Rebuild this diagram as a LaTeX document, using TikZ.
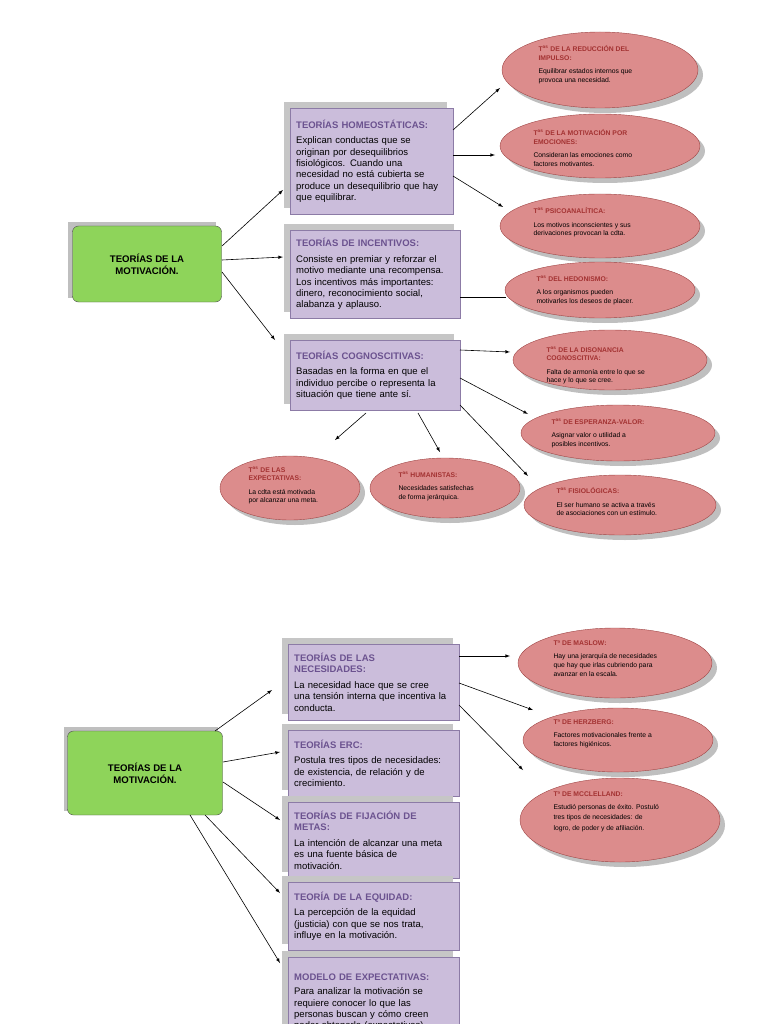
\documentclass[tikz,border=0pt]{standalone}
\usepackage{fontspec}
\setmainfont{Liberation Sans}
\usetikzlibrary{shapes.geometric}
\definecolor{boxfill}{HTML}{CBBDDB}
\definecolor{boxdraw}{HTML}{8C7BA6}
\definecolor{titlep}{HTML}{6B528F}
\definecolor{ellfill}{HTML}{DC8C8C}
\definecolor{elldraw}{HTML}{9E4545}
\definecolor{titler}{HTML}{A33232}
\definecolor{greenf}{HTML}{8ED45A}
\newcommand{\mypt}{\color{titlep}\bfseries}
\newcommand{\myrt}{\color{titler}\bfseries}
\newcommand{\mybd}{\color{black}\mdseries}
\newcommand{\mysq}{\textsuperscript{as}}
\begin{document}
\begin{tikzpicture}[x=1pt,y=-1pt,
  pbox/.style={draw=boxdraw,fill=boxfill,anchor=north west,align=left,inner sep=6pt,font=\fontsize{9.5}{11.4}\selectfont},
  gbox/.style={draw=black!70,fill=greenf,rounded corners=6pt,align=center,font=\bfseries\fontsize{9.6}{12}\selectfont},
  ell/.style={ellipse,draw=elldraw,fill=ellfill},
  etxt/.style={align=left,anchor=north west,font=\fontsize{6.8}{8.6}\selectfont},
  arr/.style={-latex,black,line width=0.6pt}]
\useasboundingbox (0,0) rectangle (768,1024);
% ---------- TOP ----------
\fill[gray!50] (68,222) rectangle (216,298);
\node[gbox,minimum width=149pt,minimum height=76pt] (g1) at (147,264) {TEORÍAS DE LA\\MOTIVACIÓN.};
\fill[gray!45] (284,102) rectangle (447,208);
\node[pbox,text width=151pt,minimum height=106pt] (h) at (290,108) {\mypt TEORÍAS HOMEOSTÁTICAS:\\[4pt]\mybd Explican conductas que se\\originan por desequilibrios\\fisiológicos. Cuando una\\necesidad no está cubierta se\\produce un desequilibrio que hay\\que equilibrar.};
\fill[gray!45] (284,224) rectangle (454,312);
\node[pbox,text width=158pt,minimum height=88pt] (i) at (290,230) {\mypt TEORÍAS DE INCENTIVOS:\\[4pt]\mybd Consiste en premiar y reforzar el\\motivo mediante una recompensa.\\Los incentivos más importantes:\\dinero, reconocimiento social,\\alabanza y aplauso.};
\fill[gray!45] (284,334) rectangle (454,404);
\node[pbox,text width=158pt,minimum height=70pt] (c) at (290,340) {\mypt TEORÍAS COGNOSCITIVAS:\\[4pt]\mybd Basadas en la forma en que el\\individuo percibe o representa la\\situación que tiene ante sí.};
% ellipses top
\foreach \n/\cx/\cy/\w/\h in {e1/600/70/196/76, e2/600/146/200/64, e3/600/226/200/64, e4/600/290/190/56, e5/610/360/194/60, e6/618/433/194/56, e7/620/505/192/60, e8/290/488/140/64, e9/445/488/150/60}{
  \fill[gray!50] (\cx+5,\cy+5) ellipse ({\w/2} and {\h/2});
  \node[ell,minimum width=\w pt,minimum height=\h pt] (\n) at (\cx,\cy) {};
}
\node[etxt] (t1) at (535,42) {\myrt T\mysq{} DE LA REDUCCIÓN DEL\\\myrt IMPULSO:\\[5pt]\mybd Equilibrar estados internos que\\provoca una necesidad.};
\node[etxt] (t2) at (530,126) {\myrt T\mysq{} DE LA MOTIVACIÓN POR\\\myrt EMOCIONES:\\[5pt]\mybd Consideran las emociones como\\factores motivantes.};
\node[etxt] (t3) at (530,204) {\myrt T\mysq{} PSICOANALÍTICA:\\[5pt]\mybd Los motivos inconscientes y sus\\derivaciones provocan la cdta.};
\node[etxt] (t4) at (533,272) {\myrt T\mysq{} DEL HEDONISMO:\\[5pt]\mybd A los organismos pueden\\motivarles los deseos de placer.};
\node[etxt] (t5) at (543,343) {\myrt T\mysq{} DE LA DISONANCIA\\\myrt COGNOSCITIVA:\\[5pt]\mybd Falta de armonía entre lo que se\\hace y lo que se cree.};
\node[etxt] (t6) at (548,415) {\myrt T\mysq{} DE ESPERANZA-VALOR:\\[5pt]\mybd Asignar valor o utilidad a\\posibles incentivos.};
\node[etxt] (t7) at (553,484) {\myrt T\mysq{} FISIOLÓGICAS:\\[5pt]\mybd El ser humano se activa a través\\de asociaciones con un estímulo.};
\node[etxt] (t8) at (245,463) {\myrt T\mysq{} DE LAS\\\myrt EXPECTATIVAS:\\[5pt]\mybd La cdta está motivada\\por alcanzar una meta.};
\node[etxt] (t9) at (395,468) {\myrt T\mysq{} HUMANISTAS:\\[5pt]\mybd Necesidades satisfechas\\de forma jerárquica.};
% arrows top
\coordinate (s1) at (222,246); \coordinate (s2) at (222,260); \coordinate (s3) at (222,272);
\coordinate (a1) at (283,190); \coordinate (a2) at (283,257); \coordinate (a3) at (275,340);
\draw[arr] (s1) -- (a1);
\draw[arr] (s2) -- (a2);
\draw[arr] (s3) -- (a3);
\coordinate (hb1) at (453,130); \coordinate (hb2) at (453,155); \coordinate (hb3) at (453,176);
\coordinate (b1) at (500,88); \coordinate (b2) at (495,155); \coordinate (b3) at (503,207);
\draw[arr] (hb1) -- (b1);
\draw[arr] (hb2) -- (b2);
\draw[arr] (hb3) -- (b3);
\coordinate (ib) at (460,297); \coordinate (ie) at (506,297);
\draw[black,line width=0.6pt] (ib) -- (ie);
\coordinate (cb1) at (460,350); \coordinate (cb2) at (460,378); \coordinate (cb3) at (460,405);
\coordinate (cb4) at (366,413); \coordinate (cb5) at (418,413);
\coordinate (c1) at (510,352); \coordinate (c2) at (528,414); \coordinate (c3) at (528,476);
\coordinate (c4) at (335,440); \coordinate (c5) at (440,452);
\draw[arr] (cb1) -- (c1);
\draw[arr] (cb2) -- (c2);
\draw[arr] (cb3) -- (c3);
\draw[arr] (cb4) -- (c4);
\draw[arr] (cb5) -- (c5);
% ---------- BOTTOM ----------
\fill[gray!50] (64,727) rectangle (218,811);
\node[gbox,minimum width=155pt,minimum height=84pt] (g2) at (145,773) {TEORÍAS DE LA\\MOTIVACIÓN.};
\fill[gray!45] (282,638) rectangle (453,714);
\node[pbox,text width=159pt,minimum height=76pt] (n) at (288,644) {\mypt TEORÍAS DE LAS\\\mypt NECESIDADES:\\[4pt]\mybd La necesidad hace que se cree\\una tensión interna que incentiva la\\conducta.};
\fill[gray!45] (282,724) rectangle (453,790);
\node[pbox,text width=159pt,minimum height=66pt] (r) at (288,730) {\mypt TEORÍAS ERC:\\[4pt]\mybd Postula tres tipos de necesidades:\\de existencia, de relación y de\\crecimiento.};
\fill[gray!45] (282,796) rectangle (453,872);
\node[pbox,text width=159pt,minimum height=76pt] (m) at (288,802) {\mypt TEORÍAS DE FIJACIÓN DE\\\mypt METAS:\\[4pt]\mybd La intención de alcanzar una meta\\es una fuente básica de\\motivación.};
\fill[gray!45] (282,876) rectangle (453,944);
\node[pbox,text width=159pt,minimum height=68pt] (q) at (288,882) {\mypt TEORÍA DE LA EQUIDAD:\\[4pt]\mybd La percepción de la equidad\\(justicia) con que se nos trata,\\influye en la motivación.};
\fill[gray!45] (282,951) rectangle (453,1041);
\node[pbox,text width=159pt,minimum height=90pt,inner ysep=5pt] (x) at (288,957) {\mypt MODELO DE EXPECTATIVAS:\\[3pt]\mybd Para analizar la motivación se\\requiere conocer lo que las\\personas buscan y cómo creen\\poder obtenerlo (expectativas).};
\foreach \n/\cx/\cy/\w/\h in {f1/615/663/194/70, f2/618/740/190/64, f3/620/820/200/84}{
  \fill[gray!50] (\cx+5,\cy+5) ellipse ({\w/2} and {\h/2});
  \node[ell,minimum width=\w pt,minimum height=\h pt] (\n) at (\cx,\cy) {};
}
\node[etxt] (u1) at (550,637) {\myrt Tª DE MASLOW:\\[5pt]\mybd Hay una jerarquía de necesidades\\que hay que irlas cubriendo para\\avanzar en la escala.};
\node[etxt] (u2) at (550,716) {\myrt Tª DE HERZBERG:\\[5pt]\mybd Factores motivacionales frente a\\factores higiénicos.};
\node[etxt,font=\fontsize{6.8}{10.8}\selectfont] (u3) at (550,788) {\myrt Tª DE MCCLELLAND:\\[2pt]\mybd Estudió personas de éxito. Postuló\\tres tipos de necesidades: de\\logro, de poder y de afiliación.};
\coordinate (gs1) at (215,731); \coordinate (gs2) at (223,762); \coordinate (gs3) at (223,782);
\coordinate (gs4) at (205,815); \coordinate (gs5) at (190,815);
\coordinate (d1) at (272,690); \coordinate (d2) at (280,752); \coordinate (d3) at (280,820);
\coordinate (d4) at (280,893); \coordinate (d5) at (280,963);
\draw[arr] (gs1) -- (d1);
\draw[arr] (gs2) -- (d2);
\draw[arr] (gs3) -- (d3);
\draw[arr] (gs4) -- (d4);
\draw[arr] (gs5) -- (d5);
\coordinate (ns1) at (459,656); \coordinate (ns2) at (459,683); \coordinate (ns3) at (459,705);
\coordinate (k1) at (510,656); \coordinate (k2) at (533,710); \coordinate (k3) at (523,770);
\draw[arr] (ns1) -- (k1);
\draw[arr] (ns2) -- (k2);
\draw[arr] (ns3) -- (k3);
\end{tikzpicture}
\end{document}
